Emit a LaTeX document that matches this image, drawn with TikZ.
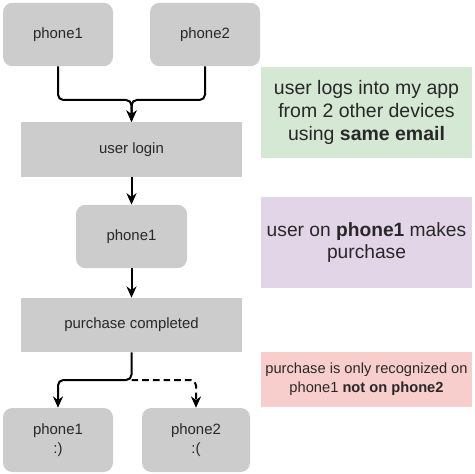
\documentclass[tikz,border=0pt]{standalone}
\usepackage{fontspec}
\setmainfont{Liberation Sans}
\usetikzlibrary{arrows.meta}
\definecolor{boxgray}{RGB}{204,204,204}
\definecolor{notegreen}{RGB}{213,232,212}
\definecolor{notepurple}{RGB}{225,213,231}
\definecolor{notered}{RGB}{248,206,204}
\definecolor{inkgray}{RGB}{40,40,40}

\begin{document}
\begin{tikzpicture}[x=0.75pt,y=-0.75pt,
    devbox/.style={fill=boxgray,rounded corners=7pt,inner sep=0pt,
      minimum width=82.5pt,minimum height=47.5pt,align=center,
      text=inkgray,font=\fontsize{11.2}{14}\selectfont},
    stepbox/.style={fill=boxgray,inner sep=0pt,
      minimum width=165.75pt,minimum height=41pt,
      text=inkgray,font=\fontsize{11.2}{14}\selectfont},
    notebox/.style={inner sep=0pt,minimum width=158.25pt,align=center,text=inkgray},
    flow/.style={line width=1.5pt,rounded corners=4pt,-{Stealth[length=8.5pt,width=7.5pt]}}]
    \useasboundingbox (0,0) rectangle (474,474);
    % devices and steps
    \node[devbox] (top1) at (58,34.5) {phone1};
    \node[devbox] (top2) at (205,34.5) {phone2};
    \node[stepbox] (login) at (131.5,149.5) {user login};
    \node[devbox,minimum width=83.25pt] (mid1) at (131.5,236.5) {phone1};
    \node[stepbox,minimum height=40.5pt] (done) at (131.5,325) {purchase completed};
    \node[devbox,minimum height=48pt] (low1) at (58,440) {phone1\\:)};
    \node[devbox,minimum width=81pt,minimum height=48pt] (low2) at (196,440) {phone2\\:(};
    % notes
    \node[notebox,fill=notegreen,minimum height=68.25pt,
      font=\fontsize{14.6}{17.25}\selectfont] (noteA) at (366.5,112.5)
      {user logs into my app\\from 2 other devices\\using \textbf{same email}};
    \node[notebox,fill=notepurple,minimum height=68.25pt,
      font=\fontsize{14.4}{16.5}\selectfont] (noteB) at (366.5,242.5)
      {user on \textbf{phone1} makes\\purchase};
    \node[notebox,fill=notered,minimum height=41.25pt,
      font=\fontsize{11}{14.25}\selectfont] (noteC) at (366.5,379.5)
      {purchase is only recognized on\\phone1 \textbf{not on phone2}};
    % connectors
    \coordinate (join) at (131.5,100);
    \coordinate (split) at (131.5,380);
    \draw[flow] (top1.south) |- (join) -- (login.north);
    \draw[flow] (top2.south) |- (join) -- (login.north);
    \draw[flow] (login) -- (mid1);
    \draw[flow] (mid1) -- (done);
    \draw[flow] (done.south) -- (split) -| (low1.north);
    \draw[flow,dash pattern=on 5pt off 3pt] (split) -| (low2.north);
\end{tikzpicture}
\end{document}
